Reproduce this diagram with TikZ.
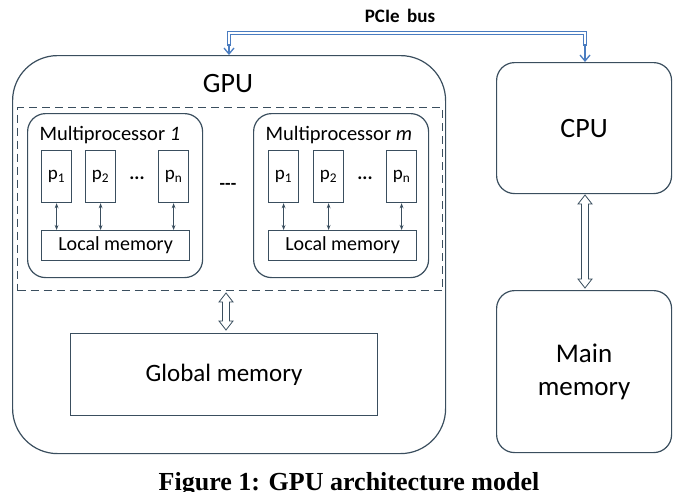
\documentclass[tikz,border=0pt]{standalone}
\usepackage{fontspec}
\setmainfont{Carlito}
\newfontfamily\capfont{Liberation Serif}
\usetikzlibrary{arrows.meta}
\definecolor{bc}{HTML}{3A4E5E}
\definecolor{busc}{HTML}{4A7CC0}
\newcommand{\hollowarrow}[3]{% x, top, bottom
  \draw[draw=bc,line width=0.8pt,fill=white,line join=miter]
    (#1,#2) -- (#1+7,#2+9) -- (#1+3.5,#2+9) -- (#1+3.5,#3-9) -- (#1+7,#3-9) -- (#1,#3)
    -- (#1-7,#3-9) -- (#1-3.5,#3-9) -- (#1-3.5,#2+9) -- (#1-7,#2+9) -- cycle;}
\begin{document}
\begin{tikzpicture}[x=1pt,y=-1pt,
  box/.style={draw=bc,line width=1.2pt,inner sep=0pt},
  pbox/.style={box,minimum width=30pt,minimum height=52pt,font=\fontsize{19}{19}\selectfont,anchor=north west},
  la/.style={draw=bc,line width=0.8pt,{Stealth[length=5pt]}-{Stealth[length=5pt]}}]
\useasboundingbox (0,0) rectangle (694,491);
\clip (0,0) rectangle (694,491);
% GPU
\node[box,rounded corners=45pt,minimum width=433pt,minimum height=398pt,anchor=north west] (gpu) at (12,55) {};
\node[font=\fontsize{28}{28}\selectfont] (gpul) at (228,84) {GPU};
\node[draw=bc,line width=1.4pt,dash pattern=on 8pt off 5pt,minimum width=425pt,minimum height=183pt,anchor=north west] (dash) at (17,107) {};
% MP boxes
\foreach \n/\x/\lab in {a/27/{Multiprocessor \textit{1}},b/253/{Multiprocessor \textit{m}}}{
  \node[box,rounded corners=18pt,minimum width=175pt,minimum height=164pt,anchor=north west] (mp\n) at (\x,113) {};
  \node[font=\fontsize{20.5}{20}\selectfont,anchor=west] (mpl\n) at (\x+9,135) {\lab};
}
\node[pbox] (a1) at (41,150) {p\textsubscript{1}};
\node[pbox] (a2) at (85,150) {p\textsubscript{2}};
\node[pbox] (an) at (158,150) {p\textsubscript{n}};
\node[font=\fontsize{19}{19}\selectfont] (ad) at (137,178) {\textbf{...}};
\node[box,minimum width=148pt,minimum height=30pt,anchor=north west,font=\fontsize{20}{20}\selectfont] (alm) at (41,230) {Local memory};
\node[pbox] (b1) at (268,150) {p\textsubscript{1}};
\node[pbox] (b2) at (313,150) {p\textsubscript{2}};
\node[pbox] (bn) at (386,150) {p\textsubscript{n}};
\node[font=\fontsize{19}{19}\selectfont] (bd) at (365,178) {\textbf{...}};
\node[box,minimum width=148pt,minimum height=30pt,anchor=north west,font=\fontsize{20}{20}\selectfont] (blm) at (268,230) {Local memory};
\node[font=\fontsize{18}{18}\selectfont\bfseries] (mid) at (228,186) {-{}-{}-};
\foreach \p in {a1,a2,an}{\draw[la] (\p.south) -- (\p.south |- alm.north);}
\foreach \p in {b1,b2,bn}{\draw[la] (\p.south) -- (\p.south |- blm.north);}
% Global memory
\node[box,minimum width=307pt,minimum height=82pt,anchor=north west,font=\fontsize{25}{25}\selectfont] (glob) at (70,333) {Global memory};
\hollowarrow{226}{293}{330}
% CPU / main memory
\node[box,rounded corners=18pt,minimum width=175pt,minimum height=131pt,anchor=north west,font=\fontsize{28}{28}\selectfont] (cpu) at (496,62) {CPU};
\node[box,rounded corners=18pt,minimum width=175pt,minimum height=162pt,anchor=north west,align=center,font=\fontsize{27}{33}\selectfont] (mm) at (496,290) {Main\\memory};
\hollowarrow{585}{195}{288}
% PCIe bus
\node[font=\fontsize{19}{19}\selectfont\bfseries] (pcie) at (400,16) {PCIe\, bus};
\coordinate (bl) at (229,33);
\coordinate (br) at (585,33);
\draw[draw=busc,double=white,double distance=2pt,line width=0.8pt] (229,46) -- (bl) -- (br) -- (585,46);
\draw[draw=busc,line width=1.3pt,-{Straight Barb[length=6pt,width=10pt]}] (229,44) -- (gpu.north -| 229,0);
\draw[draw=busc,line width=1.3pt,-{Straight Barb[length=6pt,width=10pt]}] (585,44) -- (cpu.north -| 585,0);
% caption
\node[font=\capfont\fontsize{26}{26}\selectfont\bfseries] (cap) at (349,484) {Figure 1: GPU architecture model};
\end{tikzpicture}
\end{document}
